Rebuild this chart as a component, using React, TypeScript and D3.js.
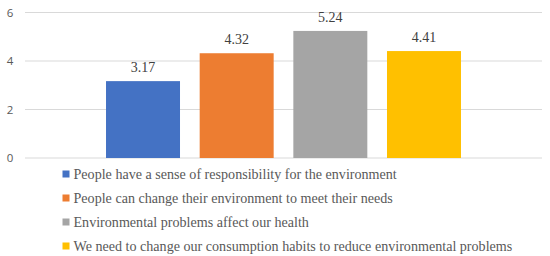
import React from "react";
import * as d3 from "d3";

const series = [
  "People have a sense of responsibility for the environment",
  "People can change their environment to meet their needs",
  "Environmental problems affect our health",
  "We need to change our consumption habits to reduce environmental problems",
];
const values = [3.17, 4.32, 5.24, 4.41];
const colors = ["#4472C4", "#ED7D31", "#A5A5A5", "#FFC000"];
const yTicks = [0, 2, 4, 6];

const width = 550;
const height = 256;
const plot = { left: 25, right: 542, top: 12.5, bottom: 158 };

export default function App() {
  const x = d3
    .scaleBand<string>()
    .domain(series)
    .range([plot.left, plot.right])
    .paddingInner(0.21)
    .paddingOuter(0.865);

  const y = d3.scaleLinear().domain([0, 6]).range([plot.bottom, plot.top]);

  const legendY = d3
    .scalePoint<string>()
    .domain(series)
    .range([174, 246]);

  return (
    <svg
      width={width}
      height={height}
      style={{ position: "absolute", left: 0, top: 0, background: "#fff" }}
    >
      {/* grid */}
      {yTicks.map((t) => (
        <g key={t}>
          <line
            x1={plot.left}
            x2={plot.right}
            y1={y(t)}
            y2={y(t)}
            stroke="#d9d9d9"
            strokeWidth={1}
          />
          <text
            x={10}
            y={y(t)}
            dy="0.35em"
            textAnchor="middle"
            fontFamily="'Open Sans', sans-serif"
            fontSize={11.5}
            fill="#595959"
          >
            {t}
          </text>
        </g>
      ))}

      {/* bars */}
      {series.map((s, i) => (
        <g key={s}>
          <rect
            x={x(s)}
            y={y(values[i])}
            width={x.bandwidth()}
            height={y(0) - y(values[i])}
            fill={colors[i]}
          />
          <text
            x={(x(s) as number) + x.bandwidth() / 2}
            y={y(values[i]) - 9}
            textAnchor="middle"
            fontFamily="'Liberation Serif', serif"
            fontSize={14}
            fill="#404040"
          >
            {values[i].toFixed(2)}
          </text>
        </g>
      ))}

      {/* legend */}
      {series.map((s, i) => (
        <g key={"lg" + s} transform={`translate(62.5, ${legendY(s)})`}>
          <rect x={0} y={-3.5} width={7} height={7} fill={colors[i]} />
          <text
            x={11}
            y={0}
            dy="0.35em"
            fontFamily="'Liberation Serif', serif"
            fontSize={14.1}
            fill="#595959"
          >
            {s}
          </text>
        </g>
      ))}
    </svg>
  );
}
